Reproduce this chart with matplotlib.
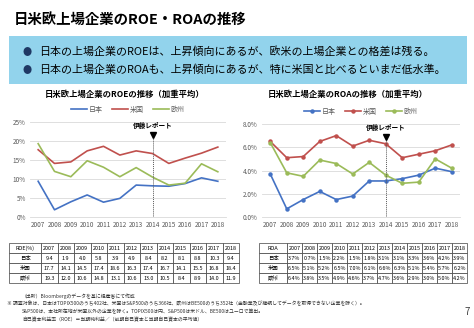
import matplotlib
matplotlib.use("Agg")
import matplotlib.pyplot as plt
from matplotlib.patches import Rectangle

plt.rcParams['font.family'] = ['Noto Sans CJK JP', 'DejaVu Sans']

years = [2007, 2008, 2009, 2010, 2011, 2012, 2013, 2014, 2015, 2016, 2017, 2018]
roe_jp = [9.4, 1.9, 4.0, 5.8, 3.9, 4.9, 8.4, 8.2, 8.1, 8.8, 10.3, 9.4]
roe_us = [17.7, 14.1, 14.5, 17.4, 18.6, 16.3, 17.4, 16.7, 14.1, 15.5, 16.8, 18.4]
roe_eu = [19.3, 12.0, 10.6, 14.8, 13.1, 10.6, 13.0, 10.5, 8.4, 8.9, 14.0, 11.9]
roa_jp = [3.7, 0.7, 1.5, 2.2, 1.5, 1.8, 3.1, 3.1, 3.3, 3.6, 4.2, 3.9]
roa_us = [6.5, 5.1, 5.2, 6.5, 7.0, 6.1, 6.6, 6.3, 5.1, 5.4, 5.7, 6.2]
roa_eu = [6.4, 3.8, 3.5, 4.9, 4.6, 3.7, 4.7, 3.6, 2.9, 3.0, 5.0, 4.2]
regions = ['日本', '米国', '欧州']
ito_year = 2014

W, H = 474, 328
C_JP, C_US, C_EU = '#4472C4', '#C0504D', '#9BBB59'
GRAY = '#595959'

fig = plt.figure(figsize=(W / 100, H / 100), dpi=100)


def box(x0, y0, x1, y1):
    # pixel box (top-left origin) -> figure fraction rect
    return [x0 / W, 1 - y1 / H, (x1 - x0) / W, (y1 - y0) / H]


def fx(x):
    return x / W


def fy(y):
    return 1 - y / H


# title and summary box
fig.text(fx(14), fy(20), '日米欧上場企業のROE・ROAの推移', fontsize=10.4,
         fontweight='bold', va='center', ha='left')
fig.patches.append(Rectangle((fx(9), fy(84)), fx(458), 48 / H,
                             transform=fig.transFigure, facecolor='#92D3EC',
                             edgecolor='none', zorder=0))
bullets = ['日本の上場企業のROEは、上昇傾向にあるが、欧米の上場企業との格差は残る。',
           '日本の上場企業のROAも、上昇傾向にあるが、特に米国と比べるといまだ低水準。']
for yy, t in zip([52, 70], bullets):
    fig.text(fx(27), fy(yy), '●', fontsize=6.5, color='#1F3864', va='center', ha='center')
    fig.text(fx(39), fy(yy), t, fontsize=7.9, va='center', ha='left')


def line_chart(rect, jp, us, eu, ymax, ystep, fmt, title, tx, markers):
    ax = fig.add_axes(rect)
    kw = dict(lw=1.2, marker='o' if markers else None, markersize=2.2)
    ax.plot(years, jp, color=C_JP, label='日本', **kw)
    ax.plot(years, us, color=C_US, label='米国', **kw)
    ax.plot(years, eu, color=C_EU, label='欧州', **kw)
    ax.set_xlim(years[0] - 0.5, years[-1] + 0.5)
    ax.set_ylim(0, ymax)
    yt = [i * ystep for i in range(int(round(ymax / ystep)) + 1)]
    ax.set_yticks(yt)
    ax.set_yticklabels([fmt.format(v) for v in yt])
    ax.set_xticks(years)
    ax.tick_params(length=0, labelsize=4.6, colors=GRAY, pad=3)
    ax.grid(axis='y', color='#D9D9D9', lw=0.6)
    ax.set_axisbelow(True)
    for s in ['top', 'right', 'left']:
        ax.spines[s].set_visible(False)
    ax.spines['bottom'].set_color('#D9D9D9')
    ax.spines['bottom'].set_linewidth(0.6)
    # 伊藤レポート marker
    top = ymax * 0.86
    ax.plot([ito_year, ito_year], [0, top], color=GRAY, lw=0.7, ls=(0, (1, 1)))
    ax.plot([ito_year], [top], marker='v', color='black', markersize=4)
    ax.text(ito_year, ymax * 0.93, '伊藤レポート', fontsize=4.8, ha='center',
            va='bottom', fontweight='bold')
    fig.text(tx, fy(94), title, fontsize=6, fontweight='bold', ha='center', va='center')
    ax.legend(loc='lower center', bbox_to_anchor=(0.5, 1.02), ncol=3, frameon=False,
              fontsize=5, handlelength=2.2, columnspacing=1.4, handletextpad=0.3,
              labelcolor=GRAY)
    return ax


line_chart(box(30, 122, 226, 217), roe_jp, roe_us, roe_eu, 25, 5, '{:.0f}%',
           '日米欧上場企業のROEの推移（加重平均）', fx(125), False)
line_chart(box(262, 124, 460, 217), roa_jp, roa_us, roa_eu, 8, 2, '{:.1f}%',
           '日米欧上場企業のROAの推移（加重平均）', fx(348), True)


def table(x0, x1, first_w, head, rows, fmt, align_lab, align_val):
    ax = fig.add_axes(box(x0, 243, x1, 283))
    ax.axis('off')
    cells = [[head] + [str(y) for y in years]]
    for name, vals in zip(regions, rows):
        cells.append([name] + [fmt.format(v) for v in vals])
    cw = (x1 - x0 - first_w) / len(years)
    widths = [first_w / (x1 - x0)] + [cw / (x1 - x0)] * len(years)
    tb = ax.table(cellText=cells, colWidths=widths, bbox=[0, 0, 1, 1], cellLoc='center')
    tb.auto_set_font_size(False)
    for (r, c), cell in tb.get_celld().items():
        cell.set_linewidth(0.5)
        cell.set_edgecolor('#404040')
        cell.set_fontsize(3.9)
        cell.PAD = 0.04
        if c == 0:
            cell._loc = align_lab
        elif r > 0:
            cell._loc = align_val
    return tb


table(9, 239, 32, 'ROE(%)', [roe_jp, roe_us, roe_eu], '{:.1f}', 'center', 'right')
table(259, 467, 28, 'ROA', [roa_jp, roa_us, roa_eu], '{:.1f}%', 'left', 'center')

notes = [(22, 296, '（出所）Bloombergのデータを基に経産省にて作成'),
         (7, 304, '※ 調査対象は、日本はTOPIX500のうち402社、米国はS&P500のうち366社、欧州はBE500のうち352社'
                  '（金融業及び継続してデータを取得できない企業を除く）。'),
         (22, 312, 'S&P500は、本社所在地が米国以外の企業を除く。TOPIX500は円、S&P500は米ドル、BE500はユーロで算出。'),
         (22, 320, '自己資本利益率（ROE）＝当期純利益／（前期自己資本と当期自己資本の平均値）')]
for x, y, t in notes:
    fig.text(fx(x), fy(y), t, fontsize=3.5, color='#303030', va='center', ha='left')
fig.text(fx(467), fy(312), '7', fontsize=7, color='#404040', va='center', ha='center')

fig.savefig('out.png', dpi=100, facecolor='white')
